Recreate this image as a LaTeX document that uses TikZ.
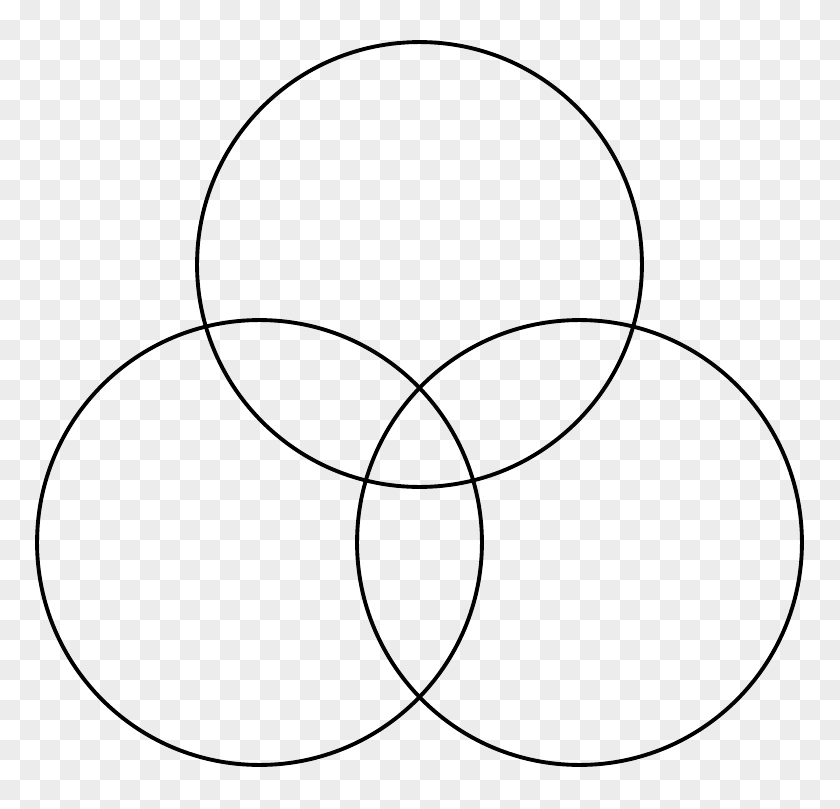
\documentclass[tikz,border=0pt]{standalone}
\begin{document}
\begin{tikzpicture}[x=0.02cm, y=-0.02cm]
\tikzset{ ring/.style={draw=black, circle, line width=2.2pt, minimum size=8.9cm, inner sep=0pt, outer sep=0pt} }
\definecolor{checkgray}{RGB}{236,236,236}
\useasboundingbox (0,0) rectangle (840,809);

% checker background
\fill [white] (0,0) rectangle (840,809);
\foreach \j in {0,...,40}
  \foreach \i in {0,...,41} {
    \pgfmathparse{isodd(\i+\j)}
    \ifnum\pgfmathresult=1 \fill [checkgray] (20*\i,20*\j) rectangle ++(20,20); \fi
  }

\node [ring] (T) at (419.5,264.5) {};
\node [ring] (L) at (259.5,542.5) {};
\node [ring] (R) at (579.5,542.5) {};

\end{tikzpicture}
\end{document}
